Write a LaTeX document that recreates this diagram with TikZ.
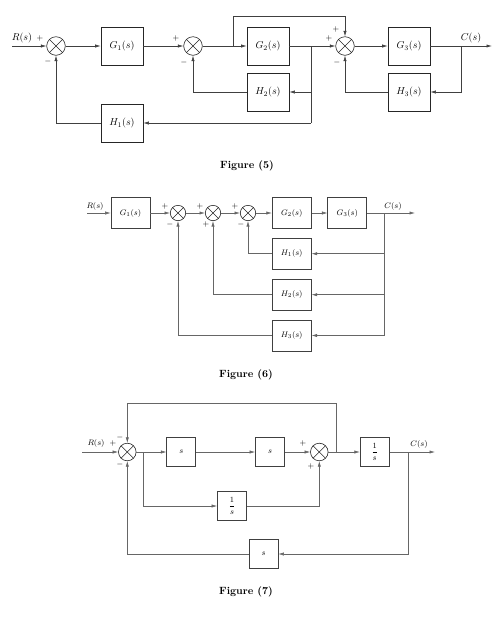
\documentclass[tikz,border=0pt]{standalone}
\usetikzlibrary{arrows.meta}

\begin{document}
\begin{tikzpicture}[x=1pt,y=-1pt]
\tikzset{%
  >={Latex[width=3.2pt,length=5.5pt]},
  % Specifications for style of nodes:
  wire/.style = {draw=black!75, line width=0.6pt},
  thinwire/.style = {draw=black!60, line width=0.55pt},
  block/.style = {rectangle, draw=black!85, line width=0.7pt,
                  minimum width=42pt, minimum height=38pt, inner sep=0pt,
                  font=\fontsize{10}{12}\selectfont},
  midblock/.style = {block, draw=black!75, minimum width=39pt, minimum height=31pt,
                  font=\fontsize{8.5}{10}\selectfont},
  smallblock/.style = {block, draw=black!75, minimum width=29pt, minimum height=29pt,
                  font=\fontsize{8}{10}\selectfont},
  summer/.style = {circle, draw=black!85, line width=0.6pt, minimum size=18.6pt, inner sep=0pt,
                  path picture={\draw[black!85,line width=0.6pt]
                    (path picture bounding box.south west) -- (path picture bounding box.north east)
                    (path picture bounding box.north west) -- (path picture bounding box.south east);}},
  smallsummer/.style = {summer, minimum size=15.4pt},
  sign/.style = {inner sep=0pt, font=\fontsize{8}{8}\selectfont},
  signal/.style = {inner sep=0pt, font=\fontsize{10}{12}\selectfont},
  smallsignal/.style = {inner sep=0pt, font=\fontsize{8}{10}\selectfont},
  figlabel/.style = {inner sep=0pt, font=\bfseries\fontsize{10.5}{12}\selectfont},
}
\useasboundingbox (0,0) rectangle (503,641);

% Figure (5)
\node (sum1) [summer] at (56,46) {};
\node (g1) [block] at (122,46) {$G_1(s)$};
\node (sum2) [summer] at (193,46) {};
\node (g2) [block] at (268,46) {$G_2(s)$};
\node (h2) [block] at (268,92) {$H_2(s)$};
\node (sum3) [summer] at (345,46) {};
\node (g3) [block] at (409,46) {$G_3(s)$};
\node (h3) [block] at (409,92) {$H_3(s)$};
\node (h1) [block] at (122,123) {$H_1(s)$};

\node (rin5) [signal] at (22,38) {$R(s)$};
\node (cout5) [signal] at (471,38) {$C(s)$};
\node (s1p) [sign] at (40,38) {$+$};
\node (s1m) [sign] at (48,61) {$-$};
\node (s2p) [sign] at (176,38) {$+$};
\node (s2m) [sign] at (184,62) {$-$};
\node (s3t) [sign] at (336,29) {$+$};
\node (s3p) [sign] at (329,38) {$+$};
\node (s3m) [sign] at (337,62) {$-$};

\coordinate (in5) at (12,46);
\coordinate (out5) at (492,46);
\coordinate (b51) at (233,46);
\coordinate (t51) at (233,16);
\coordinate (b52) at (311,46);
\coordinate (c52) at (311,123);
\coordinate (b53) at (461,46);

\draw[wire,->] (in5) -- (sum1);
\draw[wire,->] (sum1) -- (g1);
\draw[wire,->] (g1) -- (sum2);
\draw[wire,->] (sum2) -- (g2);
\draw[wire,->] (b51) -- (t51) -| (sum3.north);
\draw[wire,->] (g2) -- (sum3);
\draw[wire,->] (sum3) -- (g3);
\draw[wire,->] (g3) -- (out5);
\draw[wire] (b52) -- (c52);
\draw[wire,->] (b52 |- h2) -- (h2.east);
\draw[wire,->] (c52) -- (h1.east);
\draw[wire,->] (h1.west) -| (sum1.south);
\draw[wire,->] (h2.west) -| (sum2.south);
\draw[wire,->] (b53) |- (h3.east);
\draw[wire,->] (h3.west) -| (sum3.south);

\node (fig5) [figlabel] at (247,166) {Figure (5)};

% Figure (6)
\node (g61) [midblock] at (130.5,213) {$G_1(s)$};
\node (suma) [smallsummer] at (178,213) {};
\node (sumb) [smallsummer] at (213,213) {};
\node (sumc) [smallsummer] at (248,213) {};
\node (g62) [midblock] at (291.7,213) {$G_2(s)$};
\node (g63) [midblock] at (347.3,213) {$G_3(s)$};
\node (h61) [midblock] at (291.7,253.7) {$H_1(s)$};
\node (h62) [midblock] at (291.7,294.7) {$H_2(s)$};
\node (h63) [midblock] at (291.7,335.5) {$H_3(s)$};

\node (rin6) [smallsignal] at (95,206) {$R(s)$};
\node (cout6) [smallsignal] at (393,206) {$C(s)$};
\node (sap) [sign] at (165,206) {$+$};
\node (sam) [sign] at (170,224) {$-$};
\node (sbp) [sign] at (200,206) {$+$};
\node (sbq) [sign] at (206,224) {$+$};
\node (scp) [sign] at (235,206) {$+$};
\node (scm) [sign] at (241,224) {$-$};

\coordinate (in6) at (87,213);
\coordinate (out6) at (415,213);
\coordinate (b61) at (384,213);
\coordinate (c61) at (384,335.5);

\draw[thinwire,->] (in6) -- (g61);
\draw[thinwire,->] (g61) -- (suma);
\draw[thinwire,->] (suma) -- (sumb);
\draw[thinwire,->] (sumb) -- (sumc);
\draw[thinwire,->] (sumc) -- (g62);
\draw[thinwire,->] (g62) -- (g63);
\draw[thinwire,->] (g63) -- (out6);
\draw[thinwire] (b61) -- (c61);
\draw[thinwire,->] (b61 |- h61) -- (h61.east);
\draw[thinwire,->] (b61 |- h62) -- (h62.east);
\draw[thinwire,->] (c61) -- (h63.east);
\draw[thinwire,->] (h61.west) -| (sumc.south);
\draw[thinwire,->] (h62.west) -| (sumb.south);
\draw[thinwire,->] (h63.west) -| (suma.south);

\node (fig6) [figlabel] at (246,375) {Figure (6)};

% Figure (7)
\node (sum71) [summer, minimum size=17.6pt] at (127.3,452) {};
\node (s71) [smallblock] at (181.3,452) {$s$};
\node (s72) [smallblock] at (270,452) {$s$};
\node (inv71) [smallblock] at (232,506) {$\displaystyle\frac{1}{s}$};
\node (sum72) [summer, minimum size=17.6pt] at (319.3,452) {};
\node (inv72) [smallblock] at (374.7,452) {$\displaystyle\frac{1}{s}$};
\node (s73) [smallblock] at (263.5,554) {$s$};

\node (rin7) [smallsignal] at (96,443) {$R(s)$};
\node (cout7) [smallsignal] at (419,444) {$C(s)$};
\node (t1m) [sign] at (120,437) {$-$};
\node (t1p) [sign] at (113,443) {$+$};
\node (t1n) [sign] at (120,464) {$-$};
\node (t2p) [sign] at (303,443) {$+$};
\node (t2q) [sign] at (311,466) {$+$};

\coordinate (in7) at (82,452);
\coordinate (out7) at (435,452);
\coordinate (b71) at (143,452);
\coordinate (b72) at (336,452);
\coordinate (t72) at (336,403);
\coordinate (b73) at (408.3,452);

\draw[thinwire,->] (in7) -- (sum71);
\draw[thinwire,->] (sum71) -- (s71);
\draw[thinwire,->] (s71) -- (s72);
\draw[thinwire,->] (s72) -- (sum72);
\draw[thinwire,->] (b71) |- (inv71.west);
\draw[thinwire,->] (inv71.east) -| (sum72.south);
\draw[thinwire,->] (sum72) -- (inv72);
\draw[thinwire,->] (b72) -- (t72) -| (sum71.north);
\draw[thinwire,->] (inv72) -- (out7);
\draw[thinwire,->] (b73) |- (s73.east);
\draw[thinwire,->] (s73.west) -| (sum71.south);

\node (fig7) [figlabel] at (246,592) {Figure (7)};

\end{tikzpicture}
\end{document}
